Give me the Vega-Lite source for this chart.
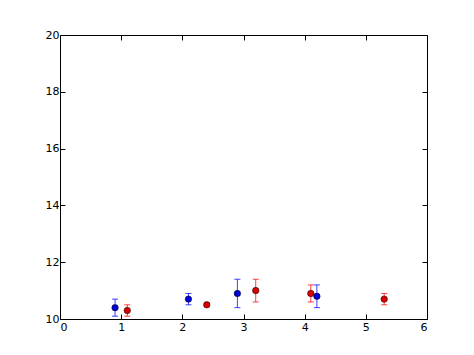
{
  "$schema": "https://vega.github.io/schema/vega-lite/v6.json",
  "width": 367,
  "height": 284,
  "autosize": {"type": "none"},
  "padding": {"left": 60, "top": 35, "right": 47, "bottom": 36},
  "background": "white",
  "config": {
    "view": {"stroke": null},
    "axis": {
      "grid": false,
      "domainColor": "#000000",
      "domainWidth": 1,
      "tickColor": "#000000",
      "tickSize": -5,
      "tickWidth": 1,
      "labelFont": "DejaVu Sans",
      "labelFontSize": 11,
      "labelColor": "#000000",
      "title": null
    }
  },
  "data": {
    "values": [
      {"x": 0.9, "y": 10.4, "lo": 10.1, "hi": 10.7, "series": "blue"},
      {"x": 1.1, "y": 10.3, "lo": 10.1, "hi": 10.5, "series": "red"},
      {"x": 2.1, "y": 10.7, "lo": 10.5, "hi": 10.9, "series": "blue"},
      {"x": 2.4, "y": 10.5, "lo": 10.45, "hi": 10.55, "series": "red"},
      {"x": 2.9, "y": 10.9, "lo": 10.4, "hi": 11.4, "series": "blue"},
      {"x": 3.2, "y": 11.0, "lo": 10.6, "hi": 11.4, "series": "red"},
      {"x": 4.1, "y": 10.9, "lo": 10.6, "hi": 11.2, "series": "red"},
      {"x": 4.2, "y": 10.8, "lo": 10.4, "hi": 11.2, "series": "blue"},
      {"x": 5.3, "y": 10.7, "lo": 10.5, "hi": 10.9, "series": "red"}
    ]
  },
  "layer": [
    {
      "mark": {"type": "rule", "strokeWidth": 1, "opacity": 0.75},
      "encoding": {
        "x": {"field": "x", "type": "quantitative", "scale": {"domain": [0, 6], "nice": false},
              "axis": {"orient": "top", "labels": false, "values": [0,1,2,3,4,5,6], "domain": true}},
        "y": {"field": "lo", "type": "quantitative", "scale": {"domain": [10, 20], "nice": false, "zero": false},
              "axis": {"orient": "right", "labels": false, "values": [10,12,14,16,18,20]}},
        "y2": {"field": "hi"},
        "color": {"field": "series", "type": "nominal", "scale": {"domain": ["blue", "red"], "range": ["#0000ff", "#ff0000"]}, "legend": null}
      }
    },
    {
      "mark": {"type": "tick", "orient": "horizontal", "size": 6, "thickness": 1, "opacity": 0.75},
      "encoding": {
        "x": {"field": "x", "type": "quantitative", "axis": null},
        "y": {"field": "lo", "type": "quantitative", "axis": null},
        "color": {"field": "series", "type": "nominal", "legend": null}
      }
    },
    {
      "mark": {"type": "tick", "orient": "horizontal", "size": 6, "thickness": 1, "opacity": 0.75},
      "encoding": {
        "x": {"field": "x", "type": "quantitative", "axis": null},
        "y": {"field": "hi", "type": "quantitative", "axis": null},
        "color": {"field": "series", "type": "nominal", "legend": null}
      }
    },
    {
      "mark": {"type": "point", "filled": true, "size": 42, "opacity": 1, "stroke": "#000000", "strokeWidth": 0.5},
      "encoding": {
        "x": {"field": "x", "type": "quantitative",
              "axis": {"orient": "bottom", "values": [0,1,2,3,4,5,6], "labelPadding": 7}},
        "y": {"field": "y", "type": "quantitative",
              "axis": {"orient": "left", "values": [10,12,14,16,18,20], "labelPadding": 6}},
        "fill": {"field": "series", "type": "nominal", "scale": {"domain": ["blue", "red"], "range": ["#0000d8", "#d80000"]}, "legend": null}
      }
    }
  ],
  "resolve": {"axis": {"x": "independent", "y": "independent"}}
}
